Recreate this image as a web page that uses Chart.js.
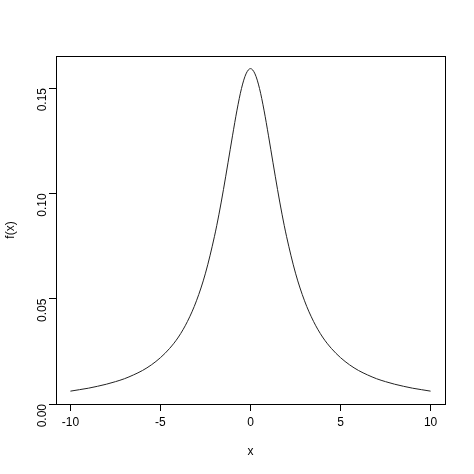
<!DOCTYPE html>
<html>
<head>
<meta charset="utf-8">
<script src="https://cdn.jsdelivr.net/npm/chart.js@4/dist/chart.umd.min.js"></script>
<style>
  html, body { margin: 0; padding: 0; background: #fff; }
  canvas { display: block; }
</style>
</head>
<body>
<canvas id="densityChart" width="474" height="474"></canvas>
<script>
// values
const xValues = [-10, -9.5, -9, -8.5, -8, -7.5, -7, -6.5, -6, -5.5, -5, -4.5, -4, -3.5, -3, -2.5, -2, -1.75, -1.5, -1.25, -1, -0.75, -0.5, -0.25,
                 0, 0.25, 0.5, 0.75, 1, 1.25, 1.5, 1.75, 2, 2.5, 3, 3.5, 4, 4.5, 5, 5.5, 6, 6.5, 7, 7.5, 8, 8.5, 9, 9.5, 10];
const fValues = [0.0061, 0.0068, 0.0075, 0.0084, 0.0094, 0.0106, 0.0120, 0.0138, 0.0159, 0.0186, 0.0220, 0.0263, 0.0318, 0.0392, 0.0490, 0.0621, 0.0796, 0.0901, 0.1019, 0.1145, 0.1273, 0.1395, 0.1498, 0.1567,
                 0.1592, 0.1567, 0.1498, 0.1395, 0.1273, 0.1145, 0.1019, 0.0901, 0.0796, 0.0621, 0.0490, 0.0392, 0.0318, 0.0263, 0.0220, 0.0186, 0.0159, 0.0138, 0.0120, 0.0106, 0.0094, 0.0084, 0.0075, 0.0068, 0.0061];
const xTicks = [-10, -5, 0, 5, 10];
const yTicks = [0, 0.05, 0.10, 0.15];

const font = { family: '"Liberation Sans", Arial, sans-serif', size: 12 };

const boxPlugin = {
    id: 'box',
    afterDraw(chart) {
        const a = chart.chartArea;
        const c = chart.ctx;
        c.save();
        c.strokeStyle = '#000';
        c.lineWidth = 1;
        c.strokeRect(Math.round(a.left) + 0.5, Math.round(a.top) + 0.5, Math.round(a.right - a.left), Math.round(a.bottom - a.top));
        c.restore();
    }
};

const ctx = document.getElementById('densityChart').getContext('2d');
new Chart(ctx, {
    type: 'scatter',
    data: {
        datasets: [{
            data: xValues.map((x, i) => ({ x: x, y: fValues[i] })),
            showLine: true, borderColor: '#222', borderWidth: 1, pointRadius: 0,
            cubicInterpolationMode: 'monotone', fill: false
        }]
    },
    options: {
        responsive: false, animation: false,
        layout: { padding: { top: 56, right: 29, left: 0, bottom: 0 } },
        plugins: { legend: { display: false }, tooltip: { enabled: false } },
        scales: {
            x: {
                type: 'linear', min: -10.8, max: 10.8,
                afterBuildTicks: s => { s.ticks = xTicks.map(v => ({ value: v })); },
                afterFit: s => { s.height = 70; },
                border: { display: false },
                grid: { drawOnChartArea: false, drawTicks: true, tickLength: 7, color: '#000' },
                ticks: { color: '#000', font: font, padding: 4, maxRotation: 0, callback: v => String(v) },
                title: { display: true, text: 'x', color: '#000', font: font, padding: { top: 0, bottom: 15 } }
            },
            y: {
                type: 'linear', min: 0, max: 0.1652,
                afterBuildTicks: s => { s.ticks = yTicks.map(v => ({ value: v })); },
                afterFit: s => { s.width = 56; },
                border: { display: false },
                grid: { drawOnChartArea: false, drawTicks: true, tickLength: 7, color: '#000' },
                ticks: { color: '#000', font: font, padding: 6, minRotation: 90, maxRotation: 90, callback: v => v.toFixed(2) },
                title: { display: true, text: 'f(x)', color: '#000', font: font, padding: { top: 3, bottom: 0 } }
            }
        }
    },
    plugins: [boxPlugin]
});
</script>
</body>
</html>
